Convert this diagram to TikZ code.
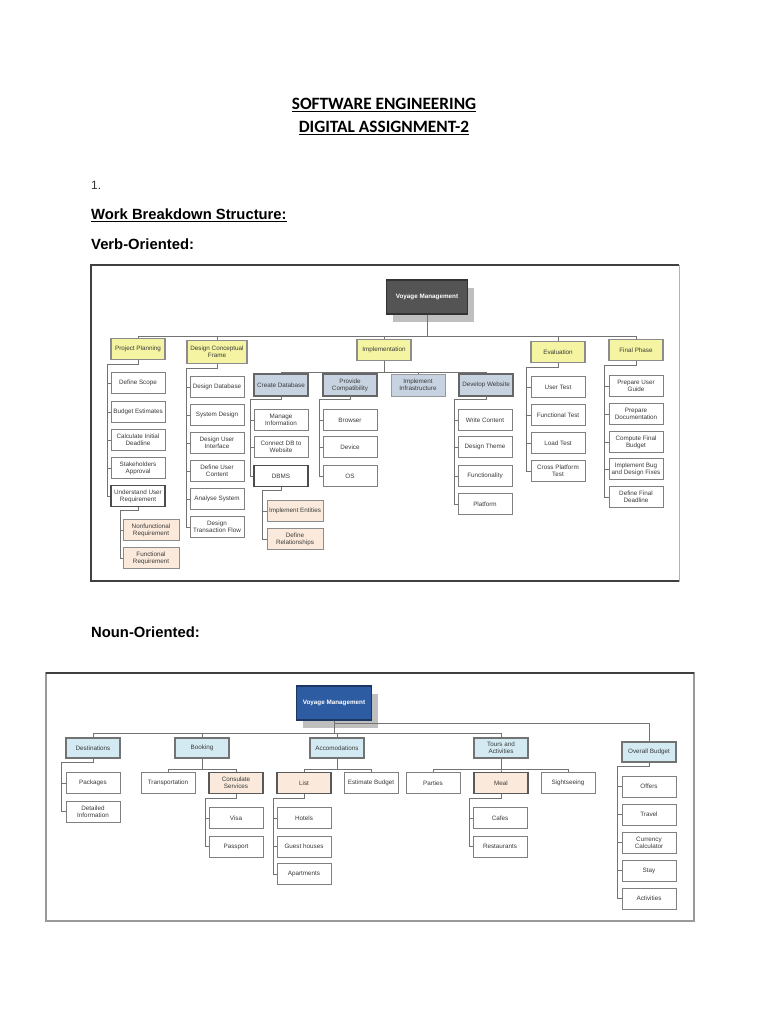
\documentclass[tikz,border=0pt]{standalone}
\usepackage{fontspec}
\setmainfont{Liberation Sans}
\newfontfamily\calibri{Carlito}
\usetikzlibrary{shadows}

\definecolor{phaseyellow}{HTML}{F4F4A2}
\definecolor{partblue}{HTML}{C8D3E1}
\definecolor{notepeach}{HTML}{FBEADB}
\definecolor{groupblue}{HTML}{D3EAF2}
\definecolor{nounblue}{HTML}{2D5CA3}
\definecolor{boxtext}{HTML}{3A3A3A}

\tikzset{
  wbs/.style={rectangle, align=center, inner sep=1pt, minimum width=54, minimum height=21,
    font=\fontsize{6.3}{7.2}\selectfont, text=boxtext},
  leafbox/.style={wbs, draw=black!50, line width=0.8, fill=white},
  thickleaf/.style={leafbox, draw=black!70, line width=1.3},
  phasebox/.style={wbs, draw=black!45, line width=1.5, fill=phaseyellow},
  partbox/.style={wbs, draw=black!60, line width=1.5, fill=partblue, minimum height=22},
  notebox/.style={wbs, draw=black!45, line width=0.9, fill=notepeach, minimum width=56},
  groupbox/.style={wbs, draw=black!55, line width=1.2, fill=groupblue, minimum height=20},
  topbox/.style={wbs, draw=black!80, line width=1.5, fill=black!67, text=white,
    font=\fontsize{6.3}{7.2}\selectfont\bfseries, minimum width=81, minimum height=34,
    drop shadow={shadow xshift=6pt, shadow yshift=-8pt, fill=black!25, opacity=1}},
  nountop/.style={topbox, draw=nounblue!60!black, fill=nounblue, minimum width=75},
  link/.style={draw=black!55, line width=0.8},
  heading/.style={anchor=west, inner sep=0pt}
}

\begin{document}
\begin{tikzpicture}[x=1pt, y=-1pt]
\useasboundingbox (0,0) rectangle (768,1024);
\fill[white] (0,0) rectangle (768,1024);

% page text
\node[font=\calibri\fontsize{17.3}{20}\selectfont\bfseries] (title1) at (384,105) {\underline{SOFTWARE ENGINEERING}};
\node[font=\calibri\fontsize{17.3}{20}\selectfont\bfseries] (title2) at (384,128) {\underline{DIGITAL ASSIGNMENT-2}};
\node[heading, font=\fontsize{12}{14}\selectfont, text=black!80] (num) at (91,185) {1.};
\node[heading, font=\fontsize{14.8}{17}\selectfont\bfseries] (wbs) at (91,215) {\underline{Work Breakdown Structure:}};
\node[heading, font=\fontsize{14.8}{17}\selectfont\bfseries] (verb) at (91,244) {Verb-Oriented:};
\node[heading, font=\fontsize{14.8}{17}\selectfont\bfseries] (noun) at (91,632) {Noun-Oriented:};

% frames
\draw[black!30, line width=1] (91,265) rectangle (679,581);
\draw[black!75, line width=2] (679,265) -- (91,265) -- (91,581) -- (679,581);
\draw[black!40, line width=1.2] (46,673) rectangle (694,921);
\draw[black!75, line width=2] (46,673) -- (694,673);

% verb-oriented tree
\node[topbox] (vm) at (427,297) {Voyage Management};
\node[phasebox] (plan) at (138,349) {Project Planning};
\node[phasebox, minimum width=60, minimum height=23] (frame) at (217,352) {Design Conceptual\\Frame};
\node[phasebox] (impl) at (384,350) {Implementation};
\node[phasebox] (eval) at (558,352) {Evaluation};
\node[phasebox] (final) at (636,350) {Final Phase};
\foreach \n in {plan,frame,impl,eval,final}
  \draw[link] (vm.south) -- ++(0,22) -| (\n.north);

\node[partbox] (cdb) at (281,385) {Create Database};
\node[partbox] (compat) at (350,385) {Provide\\Compatibility};
\node[partbox, draw=black!40, line width=0.8] (infra) at (418,385) {Implement\\Infrastructure};
\node[partbox] (web) at (486,385) {Develop Website};
\foreach \n in {cdb,compat,infra,web}
  \draw[link] (impl.south) -- ++(0,11) -| (\n.north);

\node[leafbox] (scope) at (138,383) {Define Scope};
\node[leafbox] (budget) at (138,412) {Budget Estimates};
\node[leafbox] (deadline) at (138,440) {Calculate Initial\\Deadline};
\node[leafbox] (stake) at (138,468) {Stakeholders\\Approval};
\node[thickleaf] (userreq) at (138,496) {Understand User\\Requirement};
\foreach \n in {scope,budget,deadline,stake,userreq}
  \draw[link] (plan.south) -- ++(0,4) -| ([xshift=-3]\n.west) -- (\n.west);

\node[notebox] (nonfunc) at (151,530) {Nonfunctional\\Requirement};
\node[notebox] (func) at (151,558) {Functional\\Requirement};
\foreach \n in {nonfunc,func}
  \draw[link] (userreq.south) -- ++(0,3) -| ([xshift=-2]\n.west) -- (\n.west);

\node[leafbox] (dbdesign) at (217,387) {Design Database};
\node[leafbox] (sysdesign) at (217,415) {System Design};
\node[leafbox] (uidesign) at (217,443) {Design User\\Interface};
\node[leafbox] (content) at (217,471) {Define User\\Content};
\node[leafbox] (analyse) at (217,499) {Analyse System};
\node[leafbox] (flow) at (217,527) {Design\\Transaction Flow};
\foreach \n in {dbdesign,sysdesign,uidesign,content,analyse,flow}
  \draw[link] (frame.south) -- ++(0,4) -| ([xshift=-3]\n.west) -- (\n.west);

\node[leafbox] (manage) at (281,420) {Manage\\Information};
\node[leafbox] (connect) at (281,447) {Connect DB to\\Website};
\node[thickleaf] (dbms) at (281,476) {DBMS};
\foreach \n in {manage,connect,dbms}
  \draw[link] (cdb.south) -- ++(0,3) -| ([xshift=-3]\n.west) -- (\n.west);

\node[notebox] (entities) at (295,511) {Implement Entities};
\node[notebox] (relations) at (295,539) {Define\\Relationships};
\foreach \n in {entities,relations}
  \draw[link] (dbms.south) -- ++(0,3) -| ([xshift=-4]\n.west) -- (\n.west);

\node[leafbox] (browser) at (350,420) {Browser};
\node[leafbox] (device) at (350,447) {Device};
\node[leafbox] (os) at (350,476) {OS};
\foreach \n in {browser,device,os}
  \draw[link] (compat.south) -- ++(0,3) -| ([xshift=-3]\n.west) -- (\n.west);

\node[leafbox] (write) at (485,420) {Write Content};
\node[leafbox] (theme) at (485,447) {Design Theme};
\node[leafbox] (funct) at (485,476) {Functionality};
\node[leafbox] (platform) at (485,504) {Platform};
\foreach \n in {write,theme,funct,platform}
  \draw[link] (web.south) -- ++(0,3) -| ([xshift=-3]\n.west) -- (\n.west);

\node[leafbox] (usertest) at (558,387) {User Test};
\node[leafbox] (functest) at (558,415) {Functional Test};
\node[leafbox] (loadtest) at (558,443) {Load Test};
\node[leafbox] (crosstest) at (558,471) {Cross Platform\\Test};
\foreach \n in {usertest,functest,loadtest,crosstest}
  \draw[link] (eval.south) -- ++(0,4) -| ([xshift=-4]\n.west) -- (\n.west);

\node[leafbox] (guide) at (636,386) {Prepare User\\Guide};
\node[leafbox] (docs) at (636,414) {Prepare\\Documentation};
\node[leafbox] (finbudget) at (636,442) {Compute Final\\Budget};
\node[leafbox] (fixes) at (636,469) {Implement Bug\\and Design Fixes};
\node[leafbox] (findead) at (636,497) {Define Final\\Deadline};
\foreach \n in {guide,docs,finbudget,fixes,findead}
  \draw[link] (final.south) -- ++(0,4) -| ([xshift=-4]\n.west) -- (\n.west);

% noun-oriented tree
\node[nountop] (nvm) at (334,703) {Voyage Management};
\node[groupbox] (dest) at (93,748) {Destinations};
\node[groupbox] (book) at (202,748) {Booking};
\node[groupbox] (accom) at (337,748) {Accomodations};
\node[groupbox] (tours) at (501,748) {Tours and\\Activities};
\node[groupbox] (overall) at (649,752) {Overall Budget};
\foreach \n in {dest,book,accom,tours}
  \draw[link] (nvm.south) -- ++(0,13) -| (\n.north);
\draw[link] (nvm.south) -- ++(0,3) -| (overall.north);

\node[leafbox] (packages) at (93,783) {Packages};
\node[leafbox] (details) at (93,811.5) {Detailed\\Information};
\foreach \n in {packages,details}
  \draw[link] (dest.south) -- ++(0,4) -| ([xshift=-4]\n.west) -- (\n.west);

\node[leafbox] (transport) at (168,783) {Transportation};
\node[notebox, draw=black!65, line width=1.2, minimum width=54] (consul) at (236,783) {Consulate\\Services};
\foreach \n in {transport,consul}
  \draw[link] (book.south) -- ++(0,11) -| (\n.north);

\node[leafbox] (visa) at (236,818) {Visa};
\node[leafbox] (passport) at (236,846.5) {Passport};
\foreach \n in {visa,passport}
  \draw[link] (consul.south) -- ++(0,4) -| ([xshift=-3]\n.west) -- (\n.west);

\node[notebox, draw=black!65, line width=1.2, minimum width=54] (list) at (304,783) {List};
\node[leafbox] (estimate) at (371,783) {Estimate Budget};
\foreach \n in {list,estimate}
  \draw[link] (accom.south) -- ++(0,11) -| (\n.north);

\node[leafbox] (hotels) at (304,818) {Hotels};
\node[leafbox] (guest) at (304,846.5) {Guest houses};
\node[leafbox] (apart) at (304,874) {Apartments};
\foreach \n in {hotels,guest,apart}
  \draw[link] (list.south) -- ++(0,4) -| ([xshift=-3]\n.west) -- (\n.west);

\node[leafbox] (parties) at (433,783) {Parties};
\node[notebox, draw=black!65, line width=1.2, minimum width=54] (meal) at (501,783) {Meal};
\node[leafbox] (sights) at (568,783) {Sightseeing};
\foreach \n in {parties,meal,sights}
  \draw[link] (tours.south) -- ++(0,11) -| (\n.north);

\node[leafbox] (cafes) at (500,818) {Cafes};
\node[leafbox] (restaurants) at (500,846.5) {Restaurants};
\foreach \n in {cafes,restaurants}
  \draw[link] (meal.south) -- ++(0,4) -| ([xshift=-3]\n.west) -- (\n.west);

\node[leafbox] (offers) at (649,786.5) {Offers};
\node[leafbox] (travel) at (649,814.5) {Travel};
\node[leafbox] (currency) at (649,842.5) {Currency\\Calculator};
\node[leafbox] (stay) at (649,870.5) {Stay};
\node[leafbox] (activities) at (649,898.5) {Activities};
\foreach \n in {offers,travel,currency,stay,activities}
  \draw[link] (overall.south) -- ++(0,4) -| ([xshift=-4]\n.west) -- (\n.west);
\end{tikzpicture}
\end{document}
